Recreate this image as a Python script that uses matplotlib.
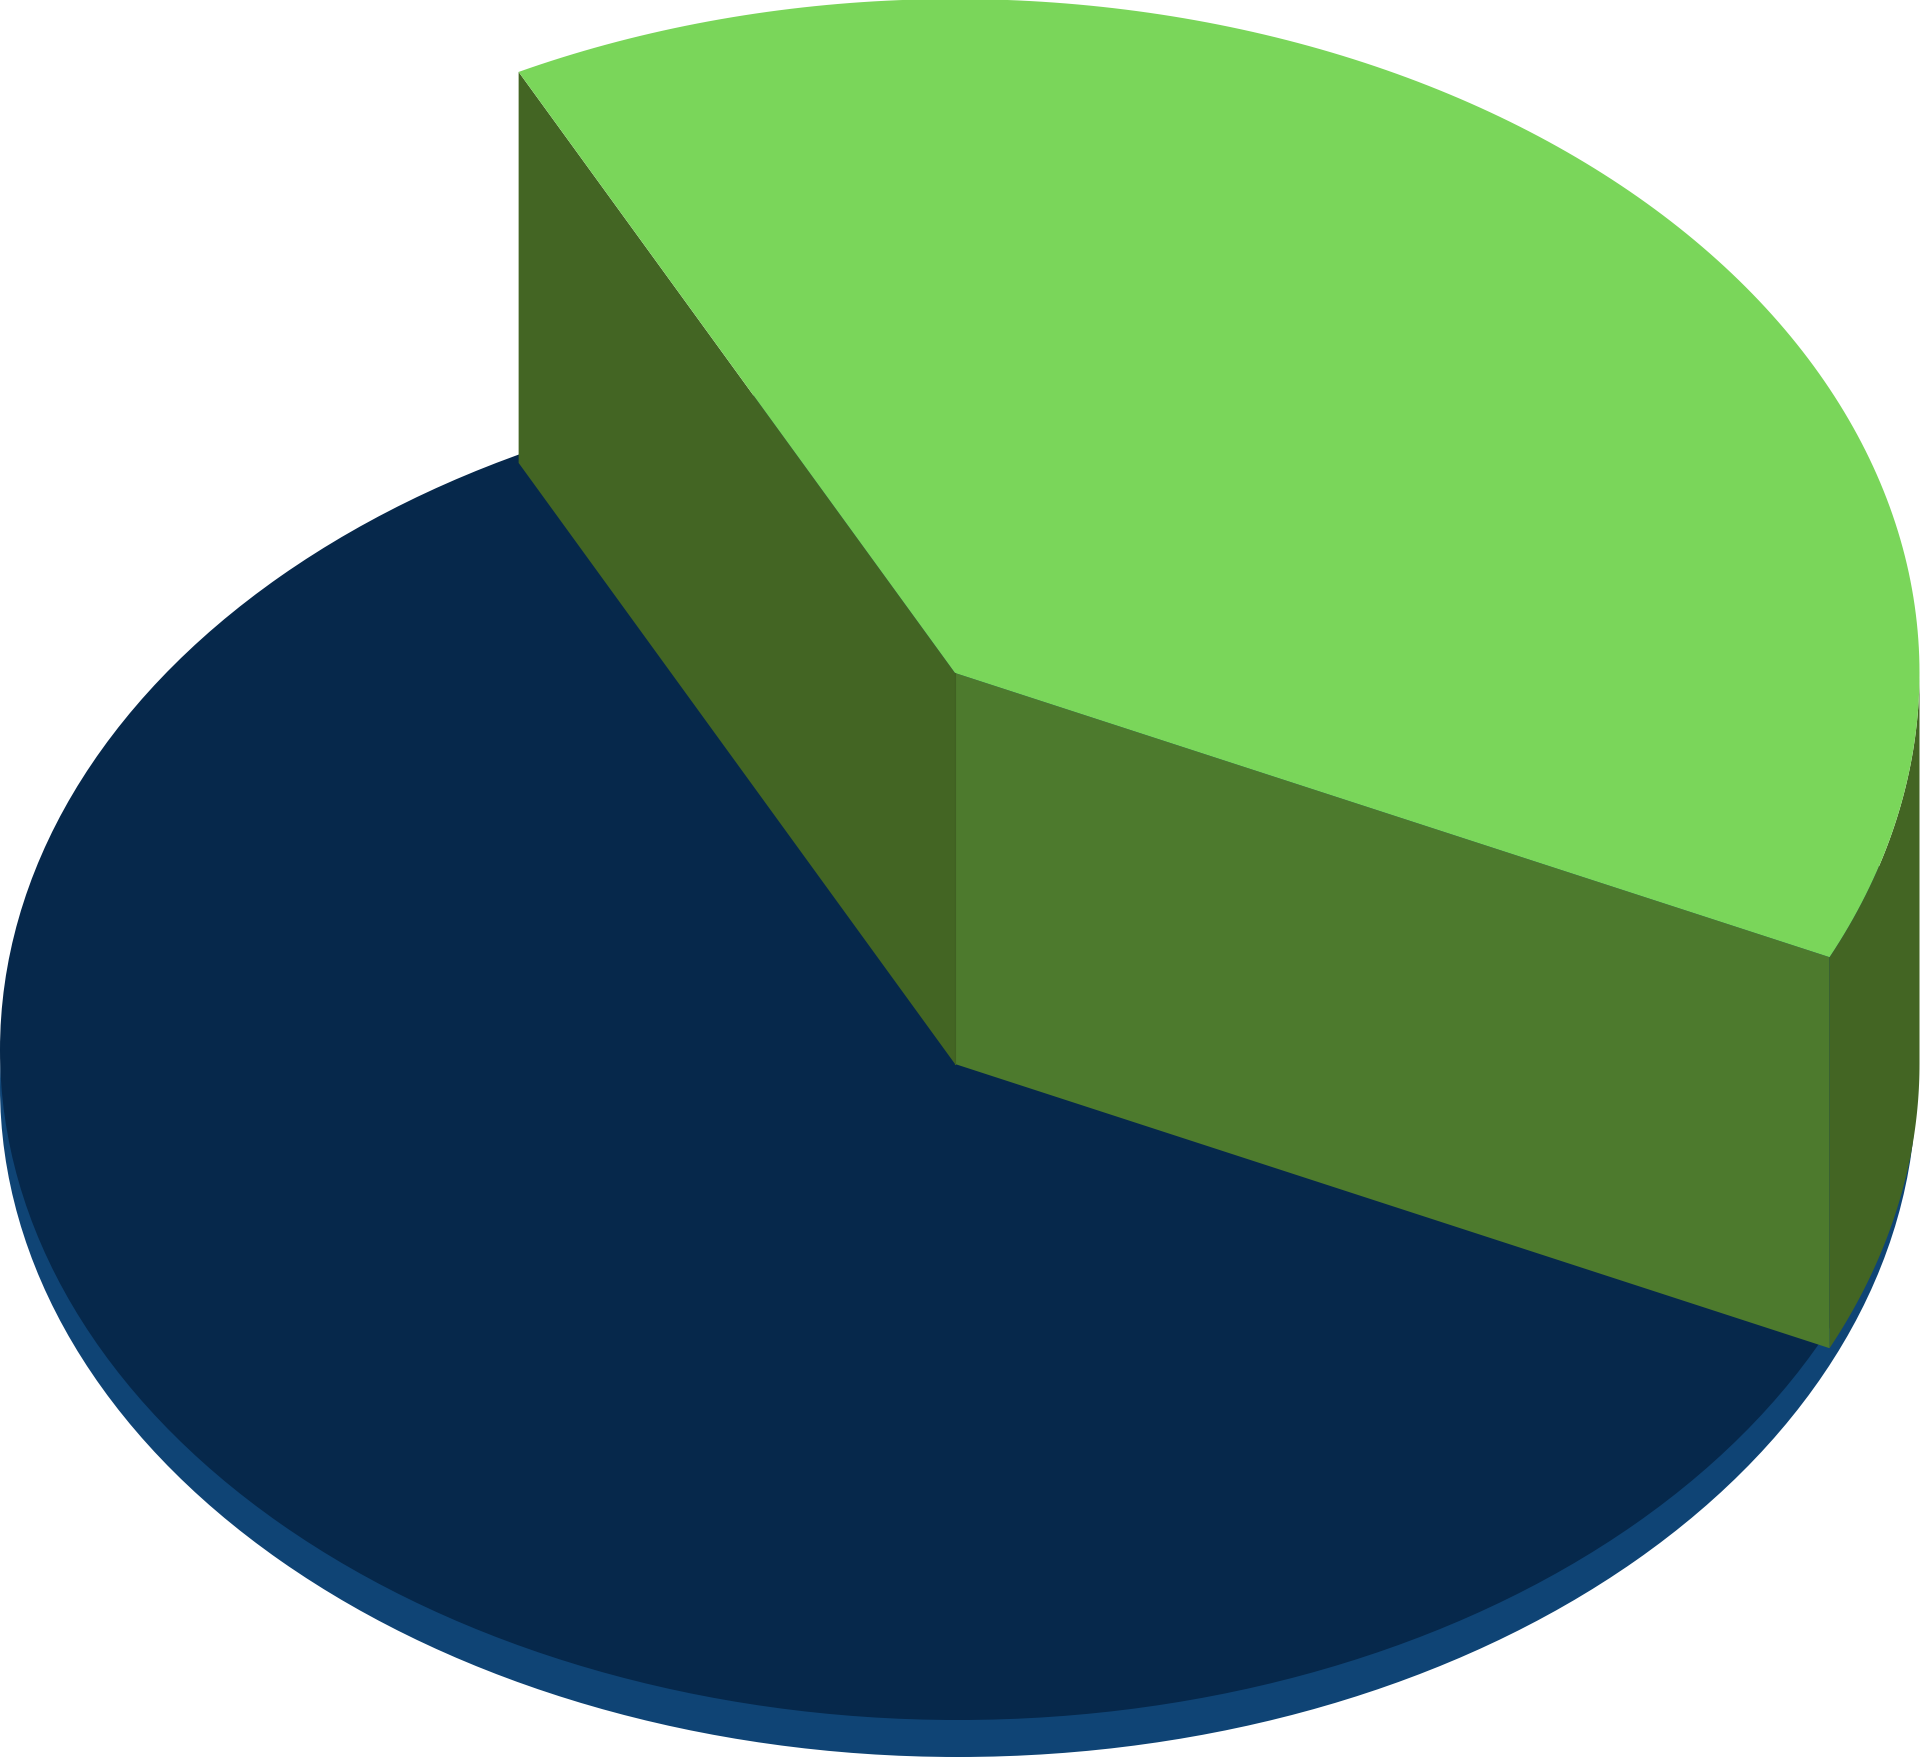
import numpy as np
import matplotlib
matplotlib.use('Agg')
import matplotlib.pyplot as plt
from matplotlib.patches import Ellipse, Polygon

# share of each slice, in percent (no labels in the picture)
categories = ['green', 'navy']
shares = [39.4, 60.6]
start_angle = 116.9

# colours
green_top = '#7AD65A'
green_front = '#4D7A2D'
green_side = '#436523'
green_seam = '#406122'
navy_top = '#06284B'
navy_base = '#0F4475'


# point on an ellipse, angle in degrees, counter clockwise from the right
def arc(cx, cy, a, b, ang1, ang2, n=200):
    t = np.radians(np.linspace(ang1, ang2, n))
    return np.column_stack([cx + a * np.cos(t), cy - b * np.sin(t)])


fig = plt.figure(figsize=(19.2, 17.58), dpi=100)
ax = fig.add_axes([0, 0, 1, 1])
ax.set_xlim(0, 1920)
ax.set_ylim(1758, 0)
ax.axis('off')

# navy disc: thin base and its top face
cx, cy, a, b, base_depth = 958, 1051, 958, 670, 37
ax.add_patch(Ellipse((cx, cy + base_depth), 2 * a, 2 * b, color=navy_base, lw=0))
ax.add_patch(Ellipse((cx, cy), 2 * a, 2 * b, color=navy_top, lw=0))

# green slice, lifted above the disc
gx, gy, ga, gb, depth = 955, 674, 964.5, 674, 391
end_angle = start_angle - shares[0] / 100 * 360

top_arc = arc(gx, gy, ga, gb, start_angle, end_angle)
centre = np.array([[gx, gy]])
down = np.array([0, depth])

# cut faces
left_face = np.vstack([top_arc[:1], centre, centre + down, top_arc[:1] + down])
front_face = np.vstack([centre, top_arc[-1:], top_arc[-1:] + down, centre + down])
ax.add_patch(Polygon(left_face, color=green_side, lw=0))

# outer wall, only the part that faces the viewer
wall_arc = arc(gx, gy, ga, gb, 0, end_angle, 60)
wall = np.vstack([wall_arc, wall_arc[::-1] + down])
ax.add_patch(Polygon(wall, color=green_side, lw=0))

ax.add_patch(Polygon(front_face, color=green_front, lw=0))
ax.plot([gx, gx], [gy, gy + depth], color=green_seam, lw=0.8)

ax.add_patch(Polygon(np.vstack([centre, top_arc]), color=green_top, lw=0))

plt.savefig('out.png', dpi=100)
